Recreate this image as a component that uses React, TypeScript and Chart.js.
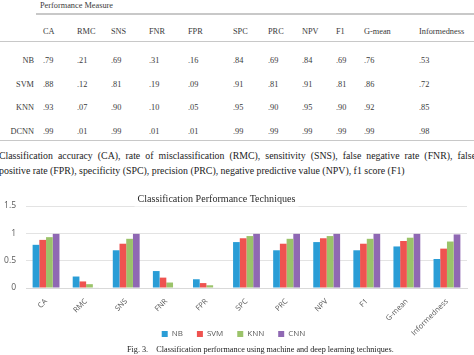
import React, { useEffect, useRef } from "react";
import { Chart, registerables } from "chart.js";

Chart.register(...registerables);

const measures = ["CA", "RMC", "SNS", "FNR", "FPR", "SPC", "PRC", "NPV", "F1", "G-mean", "Informedness"];
const nbValues = [0.79, 0.21, 0.69, 0.31, 0.16, 0.84, 0.69, 0.84, 0.69, 0.76, 0.53];
const svmValues = [0.88, 0.12, 0.81, 0.19, 0.09, 0.91, 0.81, 0.91, 0.81, 0.86, 0.72];
const knnValues = [0.93, 0.07, 0.90, 0.10, 0.05, 0.95, 0.90, 0.95, 0.90, 0.92, 0.85];
const cnnValues = [0.99, 0.01, 0.99, 0.01, 0.01, 0.99, 0.99, 0.99, 0.99, 0.99, 0.98];
const tableRowNames = ["NB", "SVM", "KNN", "DCNN"];
const chartSeriesNames = ["NB", "SVM", "KNN", "CNN"];
const seriesColors = ["#2a9dd6", "#ef5350", "#9bc36a", "#8f68b3"];
const yTicks = [0, 0.5, 1, 1.5];
const chartTitle = "Classification Performance Techniques";

const colX = [43, 77, 111, 149, 188, 233, 268, 302, 336, 364, 419];
const rowY = [61, 85, 108, 132];

const fmt = (v: number) => v.toFixed(2).replace(/^0/, "");

const serif = "'Liberation Serif', 'DejaVu Serif', serif";
const sans = "'Open Sans', 'Noto Sans', sans-serif";

const boxedTitle = {
  id: "boxedTitle",
  afterDraw(chart: any) {
    const ctx = chart.ctx;
    ctx.save();
    ctx.font = `10.1px ${serif}`;
    const w = ctx.measureText(chartTitle).width;
    const cx = 216.5;
    const cy = chart.chartArea.top - 7;
    ctx.fillStyle = "#ffffff";
    ctx.fillRect(cx - w / 2 - 3, cy - 8, w + 6, 15.5);
    ctx.fillStyle = "#2b2b2b";
    ctx.textAlign = "center";
    ctx.textBaseline = "middle";
    ctx.fillText(chartTitle, cx, cy);
    ctx.restore();
  },
};

function ChartPart() {
  const ref = useRef<HTMLCanvasElement | null>(null);
  useEffect(() => {
    if (!ref.current) return;
    const all = [nbValues, svmValues, knnValues, cnnValues];
    const chart = new Chart(ref.current, {
      type: "bar",
      data: {
        labels: measures,
        datasets: all.map((vals, i) => ({
          label: chartSeriesNames[i],
          data: vals,
          backgroundColor: seriesColors[i],
          borderWidth: 0,
          barPercentage: 1,
          categoryPercentage: 0.67,
        })),
      },
      plugins: [boxedTitle],
      options: {
        responsive: false,
        animation: false,
        layout: { padding: { left: 0, right: 7, top: 18, bottom: 0 } },
        plugins: {
          title: { display: false },
          legend: {
            position: "bottom",
            labels: {
              boxWidth: 6,
              boxHeight: 6,
              padding: 14,
              color: "#595959",
              font: { family: sans, size: 8 },
            },
          },
          tooltip: { enabled: false },
        },
        scales: {
          x: {
            grid: { display: false },
            border: { display: true, color: "#d9d9d9" },
            afterFit: (axis: any) => {
              axis.height = 28;
              axis._computeLabelArea = () => undefined;
            },
            ticks: {
              minRotation: 45,
              maxRotation: 45,
              autoSkip: false,
              color: "#595959",
              font: { family: sans, size: 7.5 },
              padding: 1,
            },
          },
          y: {
            min: 0,
            max: 1.5,
            afterBuildTicks: (axis: any) => {
              axis.ticks = yTicks.map((v) => ({ value: v }));
            },
            afterFit: (axis: any) => {
              axis.width = 26;
            },
            grid: { color: "#e3e3e3", drawTicks: false },
            border: { display: false },
            ticks: {
              autoSkip: false,
              color: "#595959",
              font: { family: sans, size: 8.5 },
              padding: 10,
              callback: (v: any) => String(v),
            },
          },
        },
      },
    });
    return () => chart.destroy();
  }, []);
  return (
    <canvas
      ref={ref}
      width={474}
      height={160}
      style={{ position: "absolute", left: 0, top: 188, width: 474, height: 160 }}
    />
  );
}

export default function App() {
  const all = [nbValues, svmValues, knnValues, cnnValues];
  const tableText: React.CSSProperties = {
    position: "absolute",
    fontFamily: serif,
    fontSize: 8.3,
    color: "#3a3a3a",
    whiteSpace: "nowrap",
    lineHeight: "10px",
  };
  return (
    <div style={{ position: "absolute", left: 0, top: 0, width: 474, height: 355, background: "#fff", overflow: "hidden" }}>
      <div style={{ ...tableText, left: 40, top: 1 }}>Performance Measure</div>
      <div style={{ position: "absolute", left: 36, top: 13, width: 438, height: 2, background: "#c8c8c8" }} />
      {measures.map((m, i) => (
        <div key={m} style={{ ...tableText, left: colX[i], top: 27 }}>{m}</div>
      ))}
      <div style={{ position: "absolute", left: 0, top: 41, width: 474, height: 1, background: "#c8c8c8" }} />
      {tableRowNames.map((r, ri) => (
        <React.Fragment key={r}>
          <div style={{ ...tableText, right: 474 - 34, top: rowY[ri] - 5, textAlign: "right" }}>{r}</div>
          {all[ri].map((v, ci) => (
            <div key={ci} style={{ ...tableText, left: colX[ci], top: rowY[ri] - 5 }}>{fmt(v)}</div>
          ))}
        </React.Fragment>
      ))}
      <div style={{ position: "absolute", left: 0, top: 140, width: 474, height: 1, background: "#c8c8c8" }} />
      <div
        style={{
          position: "absolute",
          left: -1,
          top: 148,
          width: 477,
          fontFamily: serif,
          fontSize: 9.8,
          color: "#222",
          lineHeight: "15px",
          whiteSpace: "nowrap",
          textAlign: "justify",
          textAlignLast: "justify",
        }}
      >
        Classification accuracy (CA), rate of misclassification (RMC), sensitivity (SNS), false negative rate (FNR), false
      </div>
      <div
        style={{
          position: "absolute",
          left: -1,
          top: 163,
          fontFamily: serif,
          fontSize: 9.9,
          color: "#222",
          lineHeight: "15px",
          whiteSpace: "nowrap",
        }}
      >
        positive rate (FPR), specificity (SPC), precision (PRC), negative predictive value (NPV), f1 score (F1)
      </div>
      <ChartPart />
      <div
        style={{
          position: "absolute",
          left: 127,
          top: 345,
          fontFamily: serif,
          fontSize: 8.2,
          color: "#222",
          whiteSpace: "pre",
        }}
      >
        {"Fig. 3.    Classification performance using machine and deep learning techniques."}
      </div>
    </div>
  );
}
